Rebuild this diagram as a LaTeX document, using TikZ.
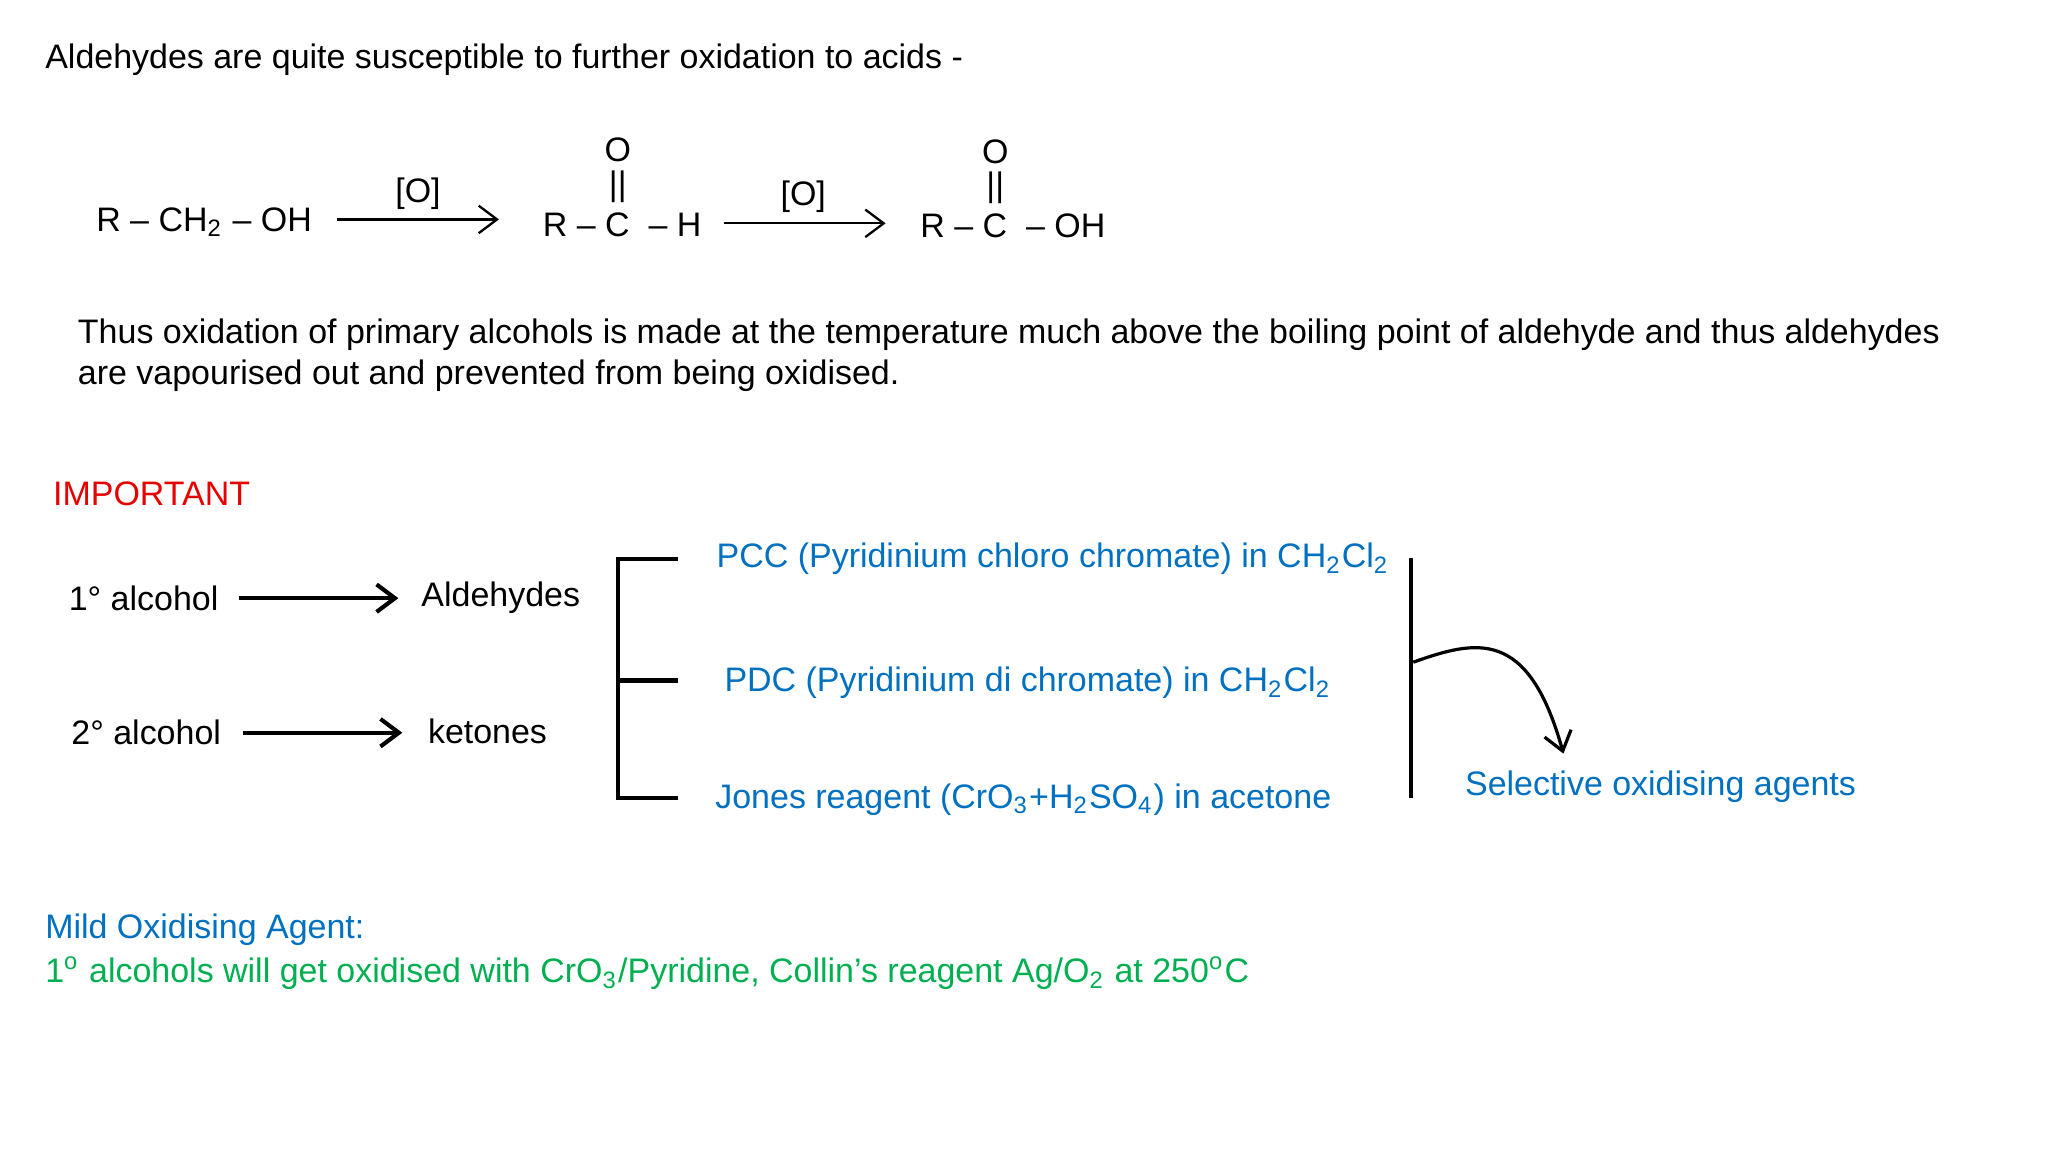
\documentclass[tikz,border=0pt]{standalone}
\usepackage{fontspec}
\setmainfont{Liberation Sans}
\usetikzlibrary{arrows.meta}
\definecolor{myblue}{RGB}{0,112,192}
\definecolor{mygreen}{RGB}{0,176,80}
\definecolor{myred}{RGB}{230,0,0}
\newcommand{\sbx}[1]{\textsubscript{#1}}
\begin{document}
\begin{tikzpicture}[x=0.1mm,y=-0.1mm,
  txt/.style={anchor=west,inner sep=0pt,font=\fontsize{7.4}{9}\selectfont},
  ctr/.style={inner sep=0pt,font=\fontsize{7.4}{9}\selectfont},
  rxn/.style={-{Straight Barb[length=4pt,width=6pt]},line width=0.5pt},
  bold/.style={-{Straight Barb[length=4pt,width=6pt]},line width=0.9pt},
  brk/.style={line width=0.9pt}]
\useasboundingbox (0,0) rectangle (1568,880);
\node[txt] (t1) at (34,46) {Aldehydes are quite susceptible to further oxidation to acids -};
% reaction
\node[txt] (a1) at (73,170) {R -- CH\sbx{2} -- OH};
\coordinate (r1s) at (258,168); \coordinate (r1e) at (382,168);
\draw[rxn] (r1s) -- (r1e);
\node[ctr] (o1) at (320,148) {[O]};
\node[txt] (a2) at (415,172) {R -- C \ -- H};
\node[ctr] (oa) at (473,115) {O};
\node[ctr] (da) at (473,143) {||};
\coordinate (r2s) at (554,171); \coordinate (r2e) at (678,171);
\draw[rxn] (r2s) -- (r2e);
\node[ctr] (o2) at (615,151) {[O]};
\node[txt] (a3) at (704,173) {R -- C \ -- OH};
\node[ctr] (ob) at (762,116) {O};
\node[ctr] (db) at (762,144) {||};
\node[txt] (p1) at (59,256) {Thus oxidation of primary alcohols is made at the temperature much above the boiling point of aldehyde and thus aldehydes};
\node[txt] (p2) at (59,288) {are vapourised out and prevented from being oxidised.};
\node[txt,text=myred] (imp) at (40,378) {IMPORTANT};
\node[txt] (al1) at (52,458) {1° alcohol};
\node[txt] (ald) at (322,458) {Aldehydes};
\draw[bold] (183,458) -- (305,458);
\node[txt] (al2) at (54,561) {2° alcohol};
\node[txt] (ket) at (327,560) {ketones};
\draw[bold] (186,561) -- (308,561);
\draw[brk] (519,428) -- (473,428) -- (473,611) -- (519,611);
\draw[brk] (473,521) -- (519,521);
\node[txt,text=myblue] (pcc) at (548,428) {PCC (Pyridinium chloro chromate) in CH\sbx{2}Cl\sbx{2}};
\node[txt,text=myblue] (pdc) at (554,523) {PDC (Pyridinium di chromate) in CH\sbx{2}Cl\sbx{2}};
\node[txt,text=myblue] (jon) at (547,612) {Jones reagent (CrO\sbx{3}+H\sbx{2}SO\sbx{4}) in acetone};
\coordinate (vt) at (1080,427); \coordinate (vb) at (1080,611);
\draw[brk] (vt) -- (vb);
\coordinate (cs) at (1082,507); \coordinate (ce) at (1197,577);
\draw[rxn,line width=0.7pt] (cs) .. controls (1130,490) and (1170,480) .. (ce);
\node[txt,text=myblue] (sel) at (1121,602) {Selective oxidising agents};
\node[txt,text=myblue] (mild) at (34,712) {Mild Oxidising Agent:};
\node[txt,text=mygreen] (gr) at (34,745) {1\textsuperscript{o} alcohols will get oxidised with CrO\sbx{3}/Pyridine, Collin\symbol{39}s reagent Ag/O\sbx{2} at 250\textsuperscript{o}C};
\end{tikzpicture}
\end{document}
